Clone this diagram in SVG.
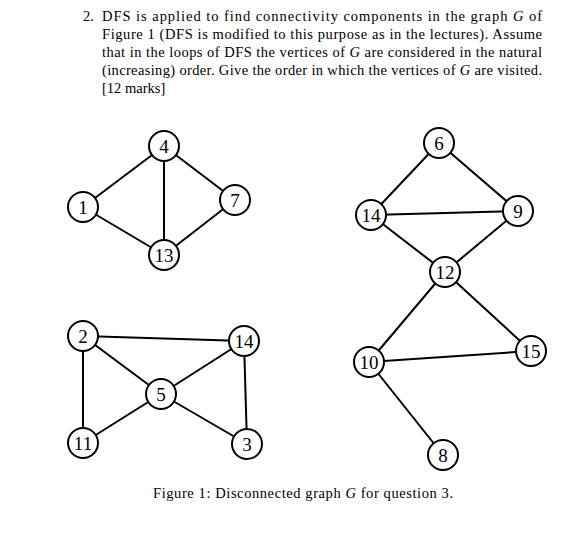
<svg xmlns="http://www.w3.org/2000/svg" width="570" height="536" viewBox="0 0 570 536">
<style>
.t{font-family:"Liberation Serif","Times New Roman",serif;font-size:14.5px;fill:#000}
.i{font-style:italic}
.n circle{fill:#fff;stroke:#000;stroke-width:2}
.n text{font-family:"Liberation Serif","Times New Roman",serif;font-size:19px;text-anchor:middle;dominant-baseline:central;fill:#000}
#edges line{stroke:#000;stroke-width:2}
</style>
<rect width="570" height="536" fill="#fff"/>
<text class="t" x="83" y="21">2.</text>
<text class="t" x="102" y="21" textLength="440" lengthAdjust="spacing">DFS is applied to find connectivity components in the graph <tspan class="i">G</tspan> of</text>
<text class="t" x="102" y="39" textLength="440" lengthAdjust="spacing">Figure 1 (DFS is modified to this purpose as in the lectures). Assume</text>
<text class="t" x="102" y="57" textLength="440" lengthAdjust="spacing">that in the loops of DFS the vertices of <tspan class="i">G</tspan> are considered in the natural</text>
<text class="t" x="102" y="75" textLength="440" lengthAdjust="spacing">(increasing) order. Give the order in which the vertices of <tspan class="i">G</tspan> are visited.</text>
<text class="t" x="102" y="93">[12 marks]</text>
<g id="edges">
<line x1="83" y1="207" x2="164" y2="146"/>
<line x1="83" y1="207" x2="164" y2="255"/>
<line x1="164" y1="146" x2="164" y2="255"/>
<line x1="164" y1="146" x2="235" y2="200"/>
<line x1="235" y1="200" x2="164" y2="255"/>
<line x1="439" y1="143" x2="371" y2="215"/>
<line x1="439" y1="143" x2="518" y2="211"/>
<line x1="371" y1="215" x2="518" y2="211"/>
<line x1="371" y1="215" x2="445" y2="272"/>
<line x1="518" y1="211" x2="445" y2="272"/>
<line x1="445" y1="272" x2="369" y2="362"/>
<line x1="445" y1="272" x2="531" y2="351"/>
<line x1="369" y1="362" x2="531" y2="351"/>
<line x1="369" y1="362" x2="443" y2="455"/>
<line x1="83" y1="336" x2="244" y2="341"/>
<line x1="83" y1="336" x2="161" y2="394"/>
<line x1="83" y1="336" x2="83" y2="443"/>
<line x1="161" y1="394" x2="244" y2="341"/>
<line x1="161" y1="394" x2="83" y2="443"/>
<line x1="161" y1="394" x2="247" y2="444"/>
<line x1="244" y1="341" x2="247" y2="444"/>
</g>
<g id="n1" class="n"><circle cx="83" cy="207" r="15"/><text x="83" y="207">1</text></g>
<g id="n4" class="n"><circle cx="164" cy="146" r="15"/><text x="164" y="146">4</text></g>
<g id="n7" class="n"><circle cx="235" cy="200" r="15"/><text x="235" y="200">7</text></g>
<g id="n13" class="n"><circle cx="164" cy="255" r="15"/><text x="164" y="255">13</text></g>
<g id="n6" class="n"><circle cx="439" cy="143" r="15"/><text x="439" y="143">6</text></g>
<g id="n14a" class="n"><circle cx="371" cy="215" r="15"/><text x="371" y="215">14</text></g>
<g id="n9" class="n"><circle cx="518" cy="211" r="15"/><text x="518" y="211">9</text></g>
<g id="n12" class="n"><circle cx="445" cy="272" r="15"/><text x="445" y="272">12</text></g>
<g id="n10" class="n"><circle cx="369" cy="362" r="15"/><text x="369" y="362">10</text></g>
<g id="n15" class="n"><circle cx="531" cy="351" r="15"/><text x="531" y="351">15</text></g>
<g id="n8" class="n"><circle cx="443" cy="455" r="15"/><text x="443" y="455">8</text></g>
<g id="n2" class="n"><circle cx="83" cy="336" r="15"/><text x="83" y="336">2</text></g>
<g id="n14b" class="n"><circle cx="244" cy="341" r="15"/><text x="244" y="341">14</text></g>
<g id="n5" class="n"><circle cx="161" cy="394" r="15"/><text x="161" y="394">5</text></g>
<g id="n11" class="n"><circle cx="83" cy="443" r="15"/><text x="83" y="443">11</text></g>
<g id="n3" class="n"><circle cx="247" cy="444" r="15"/><text x="247" y="444">3</text></g>
<text class="t" x="153" y="498" textLength="300" lengthAdjust="spacing">Figure 1: Disconnected graph <tspan class="i">G</tspan> for question 3.</text>
</svg>
